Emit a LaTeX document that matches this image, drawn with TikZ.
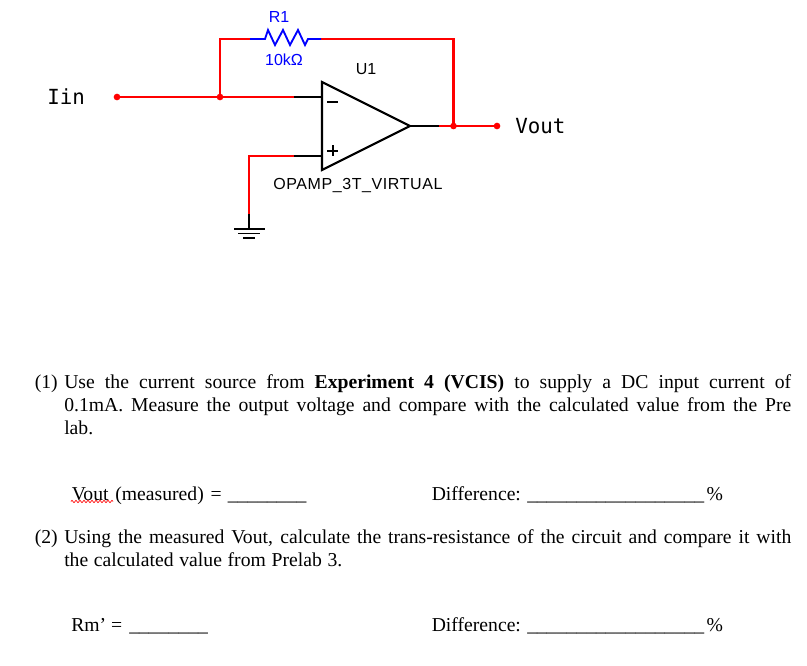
\documentclass[tikz,border=0pt]{standalone}
\usepackage{fontspec}
\setmainfont{Liberation Serif}
\newfontfamily\arialf{Liberation Sans}
\newfontfamily\arialspaced[LetterSpace=3.7]{Liberation Sans}
\newfontfamily\monof{DejaVu Sans Mono}
\usetikzlibrary{decorations.pathmorphing}
\definecolor{wirered}{RGB}{255,0,0}
\definecolor{resblue}{RGB}{0,0,255}
\tikzset{
  x=0.75pt,y=-0.75pt,
  redwire/.style={draw=wirered,line width=1.6pt},
  blackwire/.style={draw=black,line width=1.6pt},
  bluewire/.style={draw=resblue,line width=1.4pt,line join=miter},
  junction/.style={circle,fill=wirered,inner sep=0pt,minimum size=5pt},
  lab/.style={inner sep=0pt,font=\arialf\fontsize{12}{14}\selectfont},
  bluelab/.style={lab,text=resblue},
  monolab/.style={inner sep=0pt,font=\monof\fontsize{15.6}{18}\selectfont},
  body/.style={inner sep=0pt,anchor=base west,font=\fontsize{14.75}{17}\selectfont},
  pin/.style={coordinate},
}
\begin{document}
\begin{tikzpicture}
\useasboundingbox (0,0) rectangle (807,665);
\fill[white] (0,0) rectangle (807,665);
% pins
\node[junction] (iin) at (117,97) {};
\node[junction] (j1) at (220,97) {};
\node[junction] (j2) at (453.5,126) {};
\node[junction] (vo) at (497,126) {};
\node[pin] (fbl) at (220,39) {};
\node[pin] (fbr) at (453.5,39) {};
\node[pin] (r1a) at (250,39) {};
\node[pin] (r1b) at (321,39) {};
\node[pin] (m1) at (294,97) {};
\node[pin] (inm) at (322,97) {};
\node[pin] (m2) at (294,156) {};
\node[pin] (inp) at (322,156) {};
\node[pin] (gc) at (249,156) {};
\node[pin] (gm) at (249,214) {};
\node[pin] (gt) at (249,229) {};
\node[pin] (tip) at (410,126) {};
\node[pin] (om) at (439,126) {};
% wires
\draw[redwire] (iin.center) -- (m1);
\draw[redwire] (j1.center) -- (fbl) -- (r1a);
\draw[redwire] (r1b) -- (fbr) -- (j2.center);
\draw[redwire] (om) -- (vo.center);
\draw[redwire] (m2) -- (gc) -- (gm);
\draw[blackwire] (m1) -- (inm);
\draw[blackwire] (m2) -- (inp);
\draw[blackwire] (tip) -- (om);
\draw[blackwire] (gm) -- (gt);
% resistor
\draw[bluewire] (r1a) -- (265,39) -- (268,30) -- (275,45) -- (283,30) -- (290,45) -- (298,30) -- (305,45) -- (308,39) -- (r1b);
% op amp
\draw[black,line width=1.6pt,line join=miter] (322,82) -- (tip) -- (322,170) -- cycle;
\draw[black,line width=1.5pt] (327,102) -- (338,102);
\draw[black,line width=1.5pt] (327,150.5) -- (338,150.5) (332.5,145) -- (332.5,156);
% ground
\draw[black,line width=1.2pt] (234,229) -- (265,229) (238,233.5) -- (260,233.5) (243,238) -- (255,238);
% labels
\node[bluelab] (r1lab) at (279,17) {R1};
\node[bluelab] (r1val) at (284,60) {10kΩ};
\node[lab] (u1) at (366,69) {U1};
\node[inner sep=0pt,anchor=west,font=\arialspaced\fontsize{12}{14}\selectfont] (opn) at (273,185) {OPAMP\_3T\_VIRTUAL};
\node[monolab,anchor=west] (iinlab) at (47,97) {Iin};
\node[monolab,anchor=west] (voutlab) at (515,126) {Vout};
% body text
\node[body] (n1) at (34.5,388) {(1)};
\node[body] (p1a) at (64,388) {\makebox[545.25pt][s]{Use the current source from \textbf{Experiment 4 (VCIS)} to supply a DC input current of}};
\node[body] (p1b) at (64,411) {\makebox[545.25pt][s]{0.1mA. Measure the output voltage and compare with the calculated value from the Pre}};
\node[body] (p1c) at (64,434) {lab.};
\node[body] (m1t) at (71.5,500) {\makebox[112.5pt][s]{Vout (measured) =}};
\node[body] (m1u) at (227.5,500) {\_\_\_\_\_\_\_\_};
\node[body] (d1t) at (431.5,500) {Difference:};
\node[body] (d1u) at (527,500) {\_\_\_\_\_\_\_\_\_\_\_\_\_\_\_\_\_\_\kern1.8pt\%};
\node[body] (n2) at (34.5,543) {(2)};
\node[body] (p2a) at (64,543) {\makebox[545.25pt][s]{Using the measured Vout, calculate the trans-resistance of the circuit and compare it with}};
\node[body] (p2b) at (64,566) {\makebox[208.5pt][s]{the calculated value from Prelab 3.}};
\node[body] (m2t) at (71,631) {Rm’ =};
\node[body] (m2u) at (129,631) {\_\_\_\_\_\_\_\_};
\node[body] (d2t) at (431.5,631) {Difference:};
\node[body] (d2u) at (527,631) {\_\_\_\_\_\_\_\_\_\_\_\_\_\_\_\_\_\_\kern1.8pt\%};
% spell-check squiggle
\node[pin] (sqa) at (71,501.5) {};
\node[pin] (sqb) at (113,501.5) {};
\draw[wirered,line width=0.5pt,decorate,decoration={zigzag,amplitude=0.9pt,segment length=3pt}] (sqa) -- (sqb);
\end{tikzpicture}
\end{document}
